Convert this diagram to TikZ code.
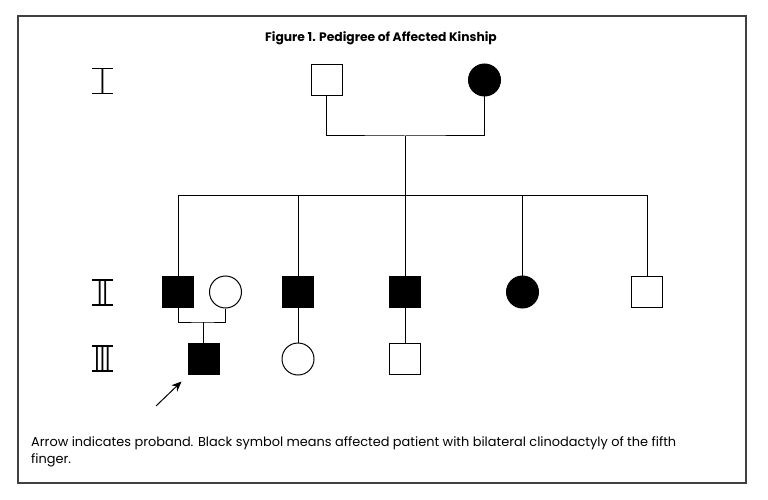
\documentclass[tikz,border=0pt]{standalone}
\usepackage{fontspec}
\setmainfont{Poppins}
\newfontfamily\numfont{Liberation Sans}
\usetikzlibrary{arrows.meta}
\newcommand{\gennum}[1]{\scalebox{0.55}[1]{\numfont\fontsize{35}{35}\selectfont #1}}
\begin{document}
\begin{tikzpicture}[x=1pt,y=-1pt,
  line width=1pt,
  male/.style={draw,rectangle,minimum size=31pt,inner sep=0pt},
  female/.style={draw,circle,minimum size=32pt,inner sep=0pt},
  aff/.style={fill=black},
  gen/.style={anchor=base,inner sep=0pt},
  genbar/.style={line width=1.3pt},
  link/.style={line width=1pt}]
\useasboundingbox (0,0) rectangle (768,500);
\draw[line width=1.3pt,black!75] (18,16) rectangle (746,483);
\node[font=\bfseries\fontsize{12.3}{14}\selectfont] (title) at (381,38) {Figure 1. Pedigree of Affected Kinship};
% generation labels
\node[gen] (gI) at (102.5,93.3) {\gennum{I}};
\node[gen] (gII) at (102.5,305) {\gennum{II}};
\node[gen] (gIII) at (102.5,371) {\gennum{III}};
\foreach \g in {gI,gII,gIII}{
  \draw[genbar] ([xshift=-10.5pt]\g.base) -- ([xshift=10.5pt]\g.base);
  \draw[genbar] ([xshift=-10.5pt,yshift=25pt]\g.base) -- ([xshift=10.5pt,yshift=25pt]\g.base);
}
% generation I
\node[male] (I1) at (326.5,80.5) {};
\node[female,aff] (I2) at (484.5,80) {};
% generation II
\node[male,aff] (II1) at (178,292) {};
\node[female] (II2) at (225.5,292) {};
\node[male,aff] (II3) at (298,292) {};
\node[male,aff] (II4) at (405,292) {};
\node[female,aff] (II5) at (522.5,292) {};
\node[male] (II6) at (647,292) {};
% generation III
\node[male,aff] (III1) at (203.5,359) {};
\node[female] (III2) at (298,359) {};
\node[male] (III3) at (405,359) {};
% couple I
\coordinate (m1) at (405,136);
\coordinate (s1) at (405,195);
\draw[link] (I1.south) |- (m1) -| (I2.south);
\draw[link] (m1) -- (s1);
\draw[link] (II1.north) |- (s1);
\draw[link] (II6.north) |- (s1);
\draw[link] (II3.north) -- (II3.north |- s1);
\draw[link] (II4.north) -- (s1);
\draw[link] (II5.north) -- (II5.north |- s1);
% couple II1-II2
\coordinate (m2) at (203.5,322);
\draw[link] (II1.south) |- (m2) -| (II2.south);
\draw[link] (m2) -- (III1.north);
\draw[link] (II3.south) -- (III2.north);
\draw[link] (II4.south) -- (III3.north);
% proband arrow
\coordinate (a0) at (156,406);
\coordinate (a1) at (181.5,381.5);
\draw[link,-{Stealth[length=10pt,width=8.5pt]}] (a0) -- (a1);
% caption
\node[anchor=north west,align=left,inner sep=0pt,font=\fontsize{12.9}{17.5}\selectfont] (cap) at (30.7,436)
{Arrow indicates proband. Black symbol means affected patient with bilateral clinodactyly of the fifth\\finger.};
\end{tikzpicture}
\end{document}
